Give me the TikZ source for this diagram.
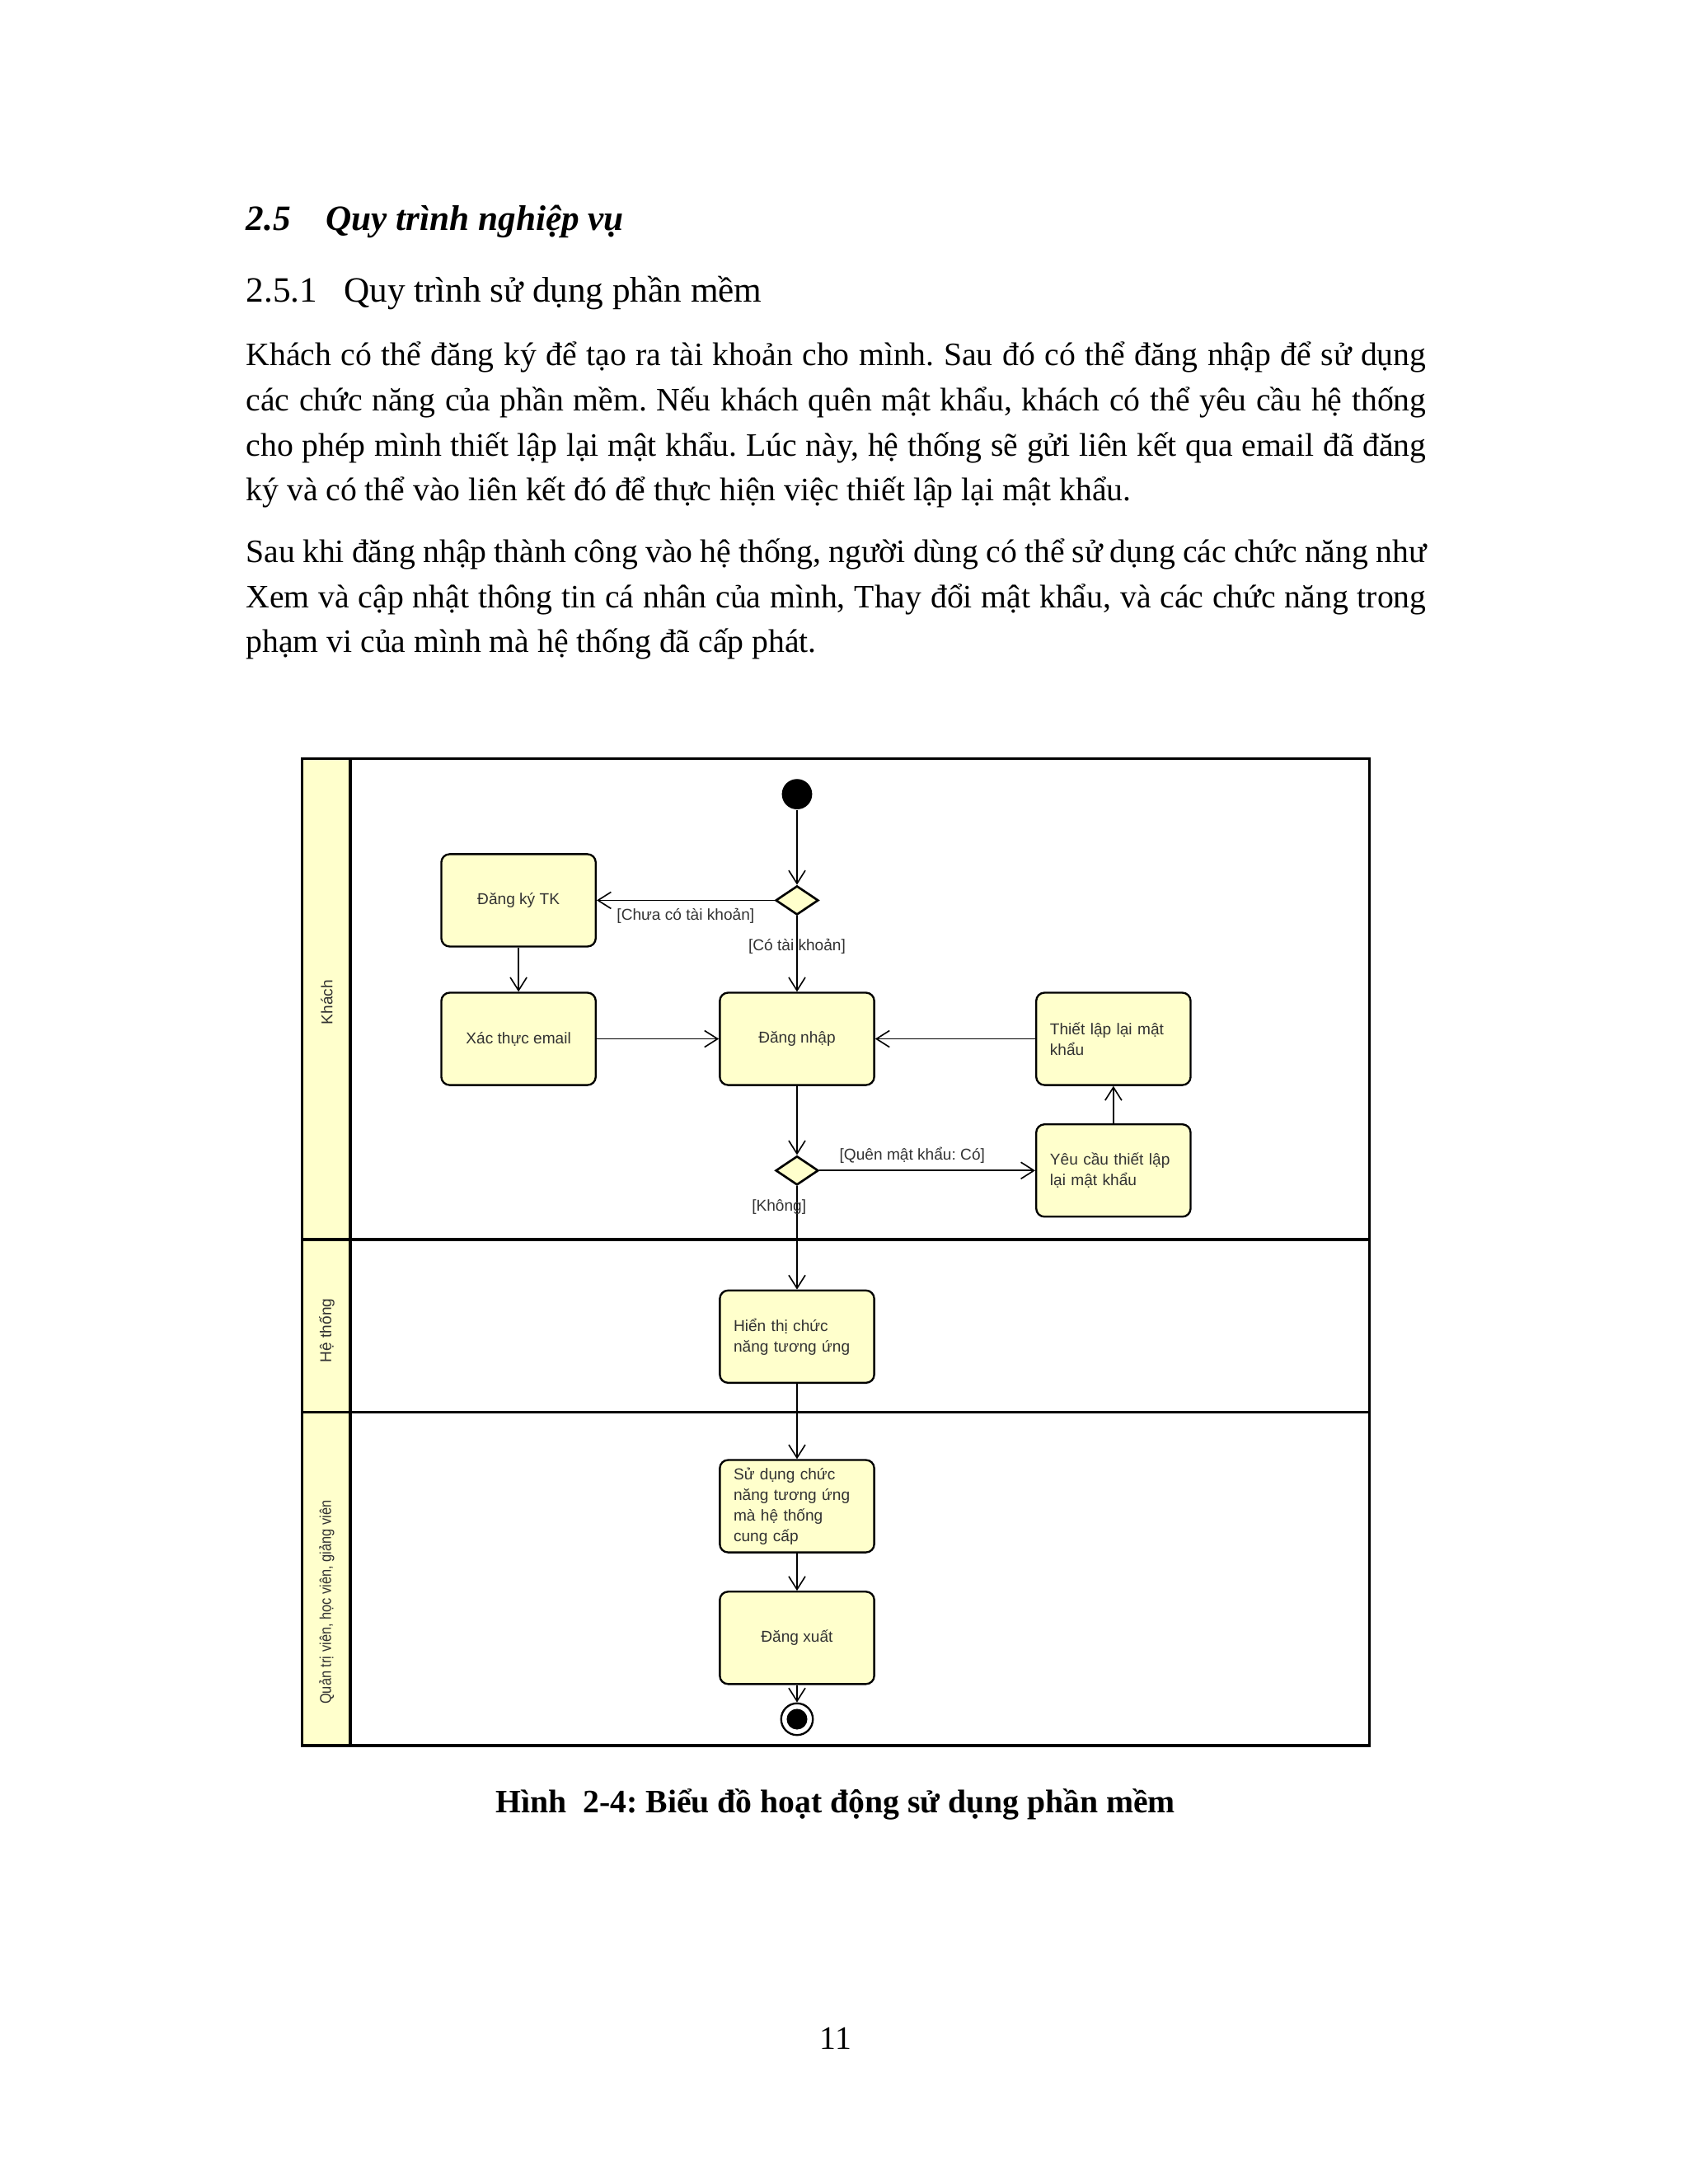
\documentclass[tikz,border=0pt]{standalone}
\usepackage{fontspec}
\setmainfont{Liberation Serif}
\setsansfont{Liberation Sans}
\usetikzlibrary{positioning,shapes.geometric,arrows.meta}
\definecolor{umlyellow}{RGB}{255,255,204}
\definecolor{umltext}{RGB}{50,50,50}
\newcommand{\diagfont}{\sffamily\fontsize{6.5}{8.5}\selectfont}
\newcommand{\bodyfont}{\fontsize{13.5}{16}\selectfont}
\newcommand{\headfont}{\fontsize{14.7}{17}\selectfont}
\frenchspacing

\begin{document}
\begin{tikzpicture}[x=0.02cm,y=-0.02cm,->,>={Straight Barb[length=1.9mm,width=2.4mm]},on grid,line width=0.55pt,
	action/.style={rectangle,rounded corners=0.12cm,draw,line width=0.8pt,fill=umlyellow,minimum width=2.24cm,minimum height=1.34cm,inner sep=0pt,font=\diagfont,text=umltext},
	action left/.style={action,text width=1.84cm,align=left},
	decision/.style={diamond,aspect=1.5,draw,line width=0.9pt,fill=umlyellow,minimum width=0.62cm,minimum height=0.42cm,inner sep=0pt},
	start node/.style={circle,fill=black,minimum size=0.44cm,inner sep=0pt},
	final node/.style={circle,draw,line width=0.8pt,fill=white,minimum size=0.46cm,inner sep=0pt,path picture={\fill[black] (path picture bounding box.center) circle (0.15cm);}},
	guard/.style={font=\diagfont,text=umltext,inner sep=1pt},
	lane label/.style={rotate=90,font=\diagfont,text=umltext,inner sep=0pt},
	body/.style={anchor=base west,inner sep=0pt,font=\bodyfont}]

	\fill[white] (0,0) rectangle (1224,1584);
	\useasboundingbox (0,0) rectangle (1224,1584);

	% page text
	\node[body,font=\headfont\bfseries\itshape] (h25) at (178,167) {\makebox[1.16cm][l]{2.5}Quy trình nghiệp vụ};
	\node[body,font=\headfont] (h251) at (178,219) {\makebox[1.42cm][l]{2.5.1}Quy trình sử dụng phần mềm};
	\node[body] (p1a) at (178,265) {\makebox[17.12cm][s]{Khách có thể đăng ký để tạo ra tài khoản cho mình. Sau đó có thể đăng nhập để sử dụng}};
	\node[body] (p1b) at (178,298) {\makebox[17.12cm][s]{các chức năng của phần mềm. Nếu khách quên mật khẩu, khách có thể yêu cầu hệ thống}};
	\node[body] (p1c) at (178,331) {\makebox[17.12cm][s]{cho phép mình thiết lập lại mật khẩu. Lúc này, hệ thống sẽ gửi liên kết qua email đã đăng}};
	\node[body] (p1d) at (178,363) {ký và có thể vào liên kết đó để thực hiện việc thiết lập lại mật khẩu.};
	\node[body] (p2a) at (178,408) {\makebox[17.12cm][s]{Sau khi đăng nhập thành công vào hệ thống, người dùng có thể sử dụng các chức năng như}};
	\node[body] (p2b) at (178,441) {\makebox[17.12cm][s]{Xem và cập nhật thông tin cá nhân của mình, Thay đổi mật khẩu, và các chức năng trong}};
	\node[body] (p2c) at (178,473) {phạm vi của mình mà hệ thống đã cấp phát.};

	% swimlanes
	\draw[-,line width=1.1pt] (219,550) rectangle (993,1266);
	\draw[-,line width=1.1pt,fill=umlyellow] (219,550) rectangle (254,1266);
	\draw[-,line width=1.1pt] (219,899) -- (993,899);
	\draw[-,line width=1.1pt] (219,1024) -- (993,1024);
	\node[lane label] (lkhach) at (237,727) {Khách};
	\node[lane label] (lhethong) at (237,965) {Hệ thống};
	\node[lane label] (lnguoidung) at (237,1162) {\scalebox{0.86}[1]{Quản trị viên, học viên, giảng viên}};

	% activities
	\node[start node] (start) at (578,576) {};
	\node[decision] (d1) [below=1.54cm of start] {};
	\node[action] (dangky) [left=4.04cm of d1] {Đăng ký TK};
	\node[action] (dangnhap) [below=2.01cm of d1] {Đăng nhập};
	\node[action] (xacthuc) [left=4.04cm of dangnhap] {Xác thực email};
	\node[action left] (thietlap) [right=4.59cm of dangnhap] {Thiết lập lại mật\\khẩu};
	\node[decision] (d2) [below=1.91cm of dangnhap] {};
	\node[action left] (yeucau) [right=4.59cm of d2] {Yêu cầu thiết lập\\lại mật khẩu};
	\node[action left] (hienthi) [below=2.41cm of d2] {Hiển thị chức\\năng tương ứng};
	\node[action left] (sudung) [below=2.46cm of hienthi] {Sử dụng chức\\năng tương ứng\\mà hệ thống\\cung cấp};
	\node[action] (dangxuat) [below=1.91cm of sudung] {Đăng xuất};
	\node[final node] (end) [below=1.18cm of dangxuat] {};

	\path[every node/.style={guard}]
	(start) edge (d1)
	(d1) edge node[below,pos=0.5,yshift=-0.07cm] {[Chưa có tài khoản]} (dangky)
	edge node[pos=0.4] {[Có tài khoản]} (dangnhap)
	(dangky) edge (xacthuc)
	(xacthuc) edge (dangnhap)
	(thietlap) edge (dangnhap)
	(dangnhap) edge (d2)
	(d2) edge node[above,pos=0.43,yshift=0.06cm] {[Quên mật khẩu: Có]} (yeucau)
	edge node[pos=0.2,xshift=-0.26cm] {[Không]} (hienthi)
	(yeucau) edge (thietlap)
	(hienthi) edge (sudung)
	(sudung) edge (dangxuat)
	(dangxuat) edge (end);

	% caption
	\node[anchor=base,inner sep=0pt,font=\fontsize{13.5}{16}\selectfont\bfseries] (caption) at (606,1315) {Hình\ \ 2-4: Biểu đồ hoạt động sử dụng phần mềm};
	\node[anchor=base,inner sep=0pt,font=\bodyfont] (pagenum) at (606,1486) {11};

\end{tikzpicture}
\end{document}
